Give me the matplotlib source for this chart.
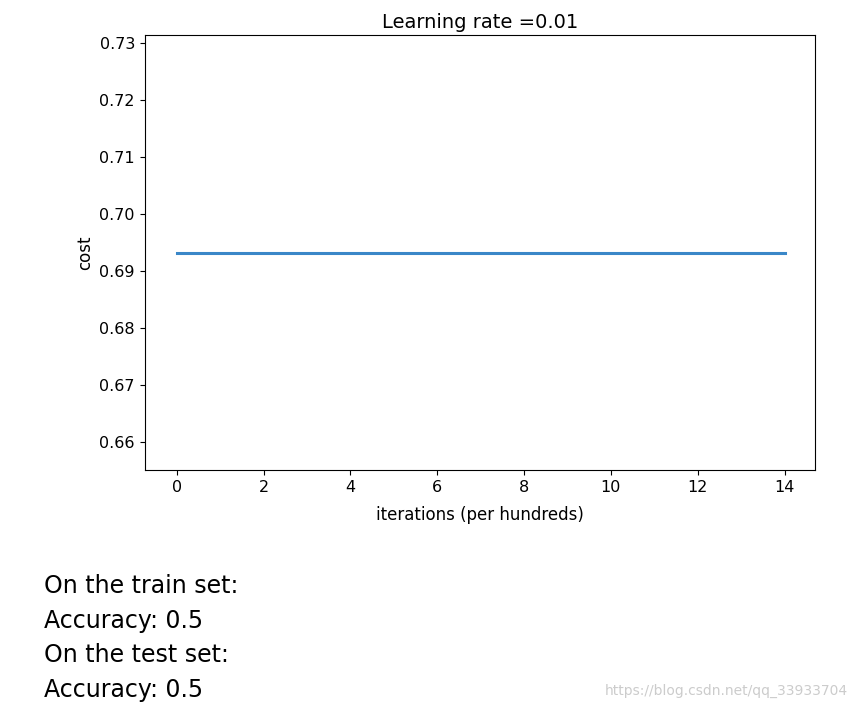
import matplotlib
matplotlib.use("Agg")
import matplotlib.pyplot as plt
import numpy as np

iterations = list(range(15))
costs = [0.6931] * 15
learning_rate = 0.01
report_lines = ["On the train set:", "Accuracy: 0.5", "On the test set:", "Accuracy: 0.5"]

fig = plt.figure(figsize=(8.56, 7.12), dpi=100)
ax = fig.add_axes([0.169, 0.340, 0.783, 0.611])
ax.plot(iterations, costs, color="#3a87c8", linewidth=2.2)
ax.set_xlim(-0.74, 14.7)
ax.set_ylim(0.6551, 0.7314)
ax.set_xticks(np.arange(0, 15, 2))
ax.set_yticks(np.arange(0.66, 0.731, 0.01))
ax.tick_params(labelsize=11.5)
ax.set_xlabel("iterations (per hundreds)", fontsize=12, labelpad=8)
ax.set_ylabel("cost", fontsize=12)
ax.set_title("Learning rate =" + str(learning_rate), fontsize=14, pad=5)

for i, line in enumerate(report_lines):
    fig.text(0.051, 0.177 - i * 0.0485, line, fontsize=17, va="center")
fig.text(0.99, 0.02, "https://blog.csdn.net/qq_33933704", fontsize=10,
         color="#cccccc", ha="right", va="bottom")

fig.savefig("out.png", dpi=100)
